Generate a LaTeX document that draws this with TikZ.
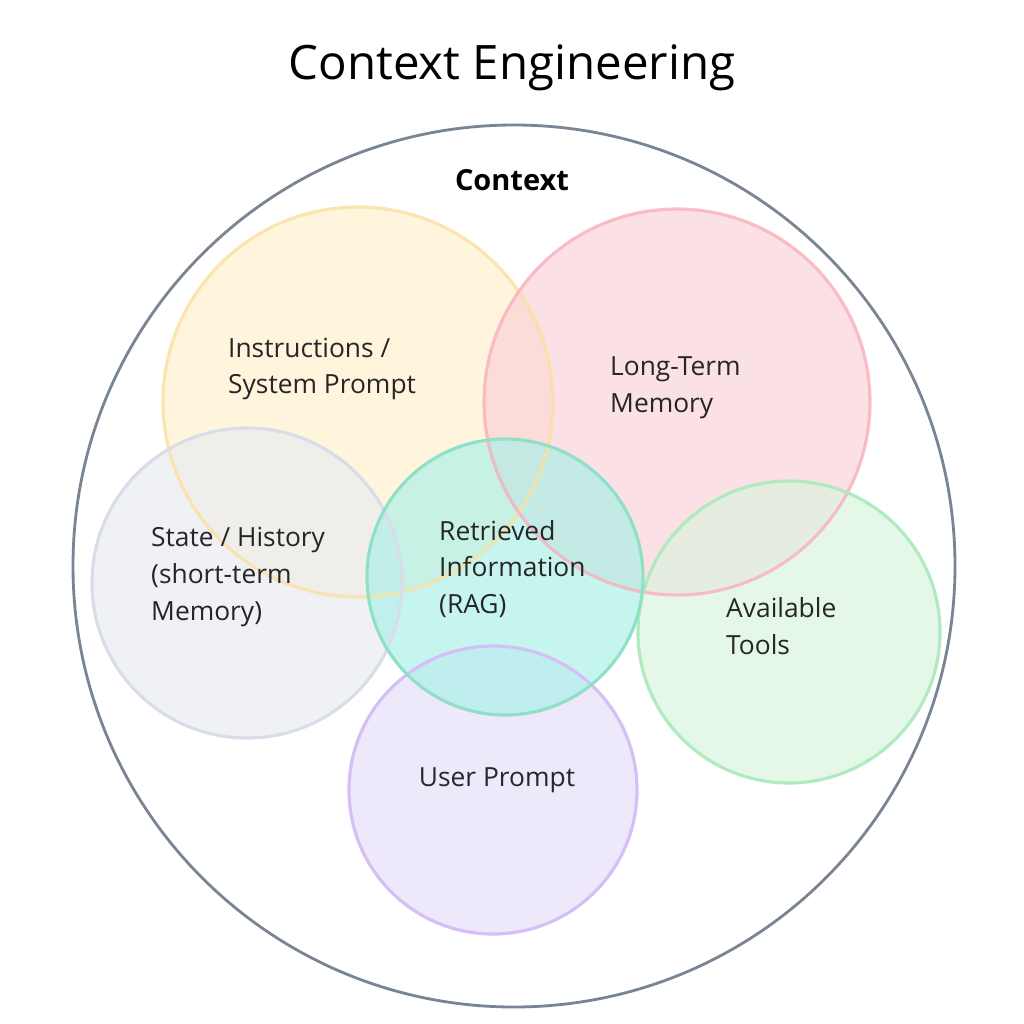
\documentclass[tikz,border=0pt]{standalone}
\usepackage{fontspec}
\setmainfont{Open Sans}
\usetikzlibrary{positioning}
\definecolor{ringgray}{HTML}{7A8594}
\definecolor{yelfill}{HTML}{FFF0CC}
\definecolor{yelline}{HTML}{FBE0A0}
\definecolor{pinkfill}{HTML}{FAD0D8}
\definecolor{pinkline}{HTML}{F9B0BC}
\definecolor{grayfill}{HTML}{E8EBF1}
\definecolor{grayline}{HTML}{D8DDE8}
\definecolor{tealfill}{HTML}{A8F0E8}
\definecolor{tealline}{HTML}{90E0C8}
\definecolor{greenfill}{HTML}{D8F5DC}
\definecolor{greenline}{HTML}{B0EAC0}
\definecolor{purpfill}{HTML}{E6DCFA}
\definecolor{purpline}{HTML}{D4C0F6}
\tikzset{
  blob/.style={circle, line width=1.8pt, fill opacity=0.65, draw opacity=1},
  lbl/.style={font=\fontsize{15}{21}\selectfont, align=left, text=black!85, anchor=west}
}
\begin{document}
\begin{tikzpicture}[x=0.02cm, y=-0.02cm]
\useasboundingbox (0,0) rectangle (1024,1024);
\fill[white] (0,0) rectangle (1024,1024);

% title and outer ring
\node (title) at (512,68) {\fontsize{27}{32}\selectfont Context Engineering};
\draw[ringgray, line width=1.6pt] (514,566) circle (441);
\node[font=\fontsize{16.5}{20}\selectfont\bfseries] (ctx) at (512,180) {Context};

% circles
\fill[yelfill, blob] (358,402) circle (195);
\fill[pinkfill, blob] (677,402) circle (193);
\fill[grayfill, blob] (247,583) circle (155);
\fill[greenfill, blob] (789,632) circle (151);
\fill[purpfill, blob] (493,790) circle (144);
\fill[tealfill, blob] (505,577) circle (138);
\draw[yelline, line width=1.8pt, draw opacity=0.8] (358,402) circle (195);
\draw[pinkline, line width=1.8pt, draw opacity=0.8] (677,402) circle (193);
\draw[grayline, line width=1.8pt] (247,583) circle (155);
\draw[greenline, line width=1.8pt] (789,632) circle (151);
\draw[purpline, line width=1.8pt] (493,790) circle (144);
\draw[tealline, line width=1.8pt] (505,577) circle (138);

% labels
\node[lbl] (instr) at (222,369) {Instructions /\\System Prompt};
\node[lbl] (ltm) at (604,388) {Long-Term\\Memory};
\node[lbl] (state) at (145,577) {State / History\\(short-term\\Memory)};
\node[lbl] (rag) at (433,569) {Retrieved\\Information\\(RAG)};
\node[lbl] (tools) at (720,626) {Available\\Tools};
\node[lbl, anchor=center] (user) at (497,780) {User Prompt};
\end{tikzpicture}
\end{document}
